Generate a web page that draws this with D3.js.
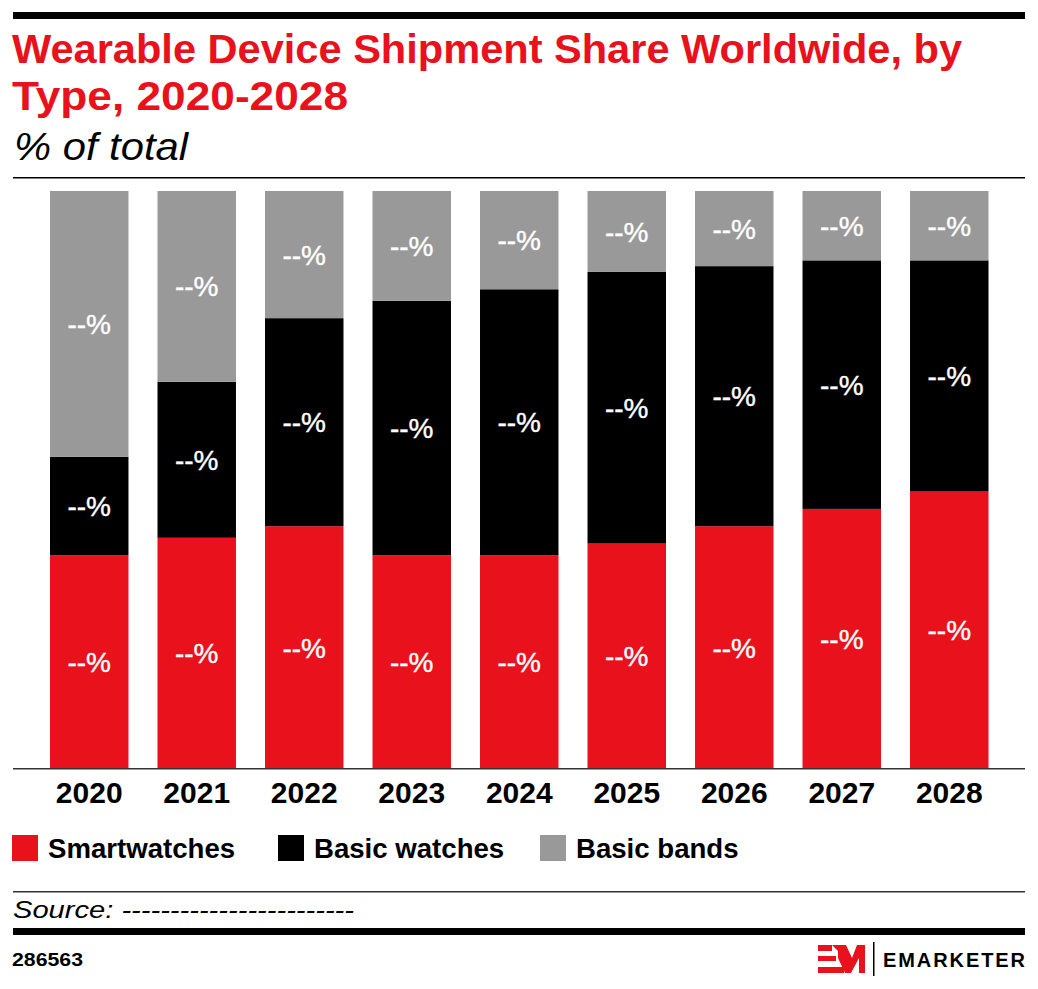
<!DOCTYPE html>
<html lang="en">

<head>
    <meta charset="utf-8">
    <title>Wearable Device Shipment Share</title>
    <style>
        * {
            margin: 0;
            padding: 0;
            box-sizing: border-box;
        }

        body {
            font-family: 'Liberation Sans', Arial, sans-serif;
            background: #fff;
        }
    </style>
</head>

<body>
    <div id="chart"></div>
    <script src="https://d3js.org/d3.v7.min.js"></script>

    <script>
        var years = ["2020", "2021", "2022", "2023", "2024", "2025", "2026", "2027", "2028"];
        var seriesNames = ["Smartwatches", "Basic watches", "Basic bands"];
        var seriesColors = ["#e8111c", "#000000", "#999999"];
        var smartwatches = [37, 40, 42, 37, 37, 39, 42, 45, 48];
        var basicWatches = [17, 27, 36, 44, 46, 47, 45, 43, 40];
        var basicBands = [46, 33, 22, 19, 17, 14, 13, 12, 12];
        var labelText = "--%";

        var width = 1038,
            height = 989;

        var svg = d3.select("#chart")
            .append("svg")
            .attr("width", width)
            .attr("height", height)

        // top rule + title
        svg.append("rect").attr("x", 13).attr("y", 12).attr("width", 1012).attr("height", 7).style("fill", "#000")

        var title = svg.append("text")
            .style("font-size", "40px")
            .style("font-weight", "bold")
            .style("fill", "#e8111c")
        title.append("tspan").attr("x", 12).attr("y", 63)
            .attr("textLength", 950).attr("lengthAdjust", "spacingAndGlyphs")
            .text("Wearable Device Shipment Share Worldwide, by")
        title.append("tspan").attr("x", 12).attr("y", 110)
            .attr("textLength", 336).attr("lengthAdjust", "spacingAndGlyphs")
            .text("Type, 2020-2028")

        svg.append("text")
            .attr("x", 14).attr("y", 160)
            .attr("textLength", 174).attr("lengthAdjust", "spacingAndGlyphs")
            .style("font-size", "38px")
            .style("font-style", "italic")
            .text("% of total")

        svg.append("rect").attr("x", 13).attr("y", 177).attr("width", 1012).attr("height", 1.5).style("fill", "#000")

        // stacked data
        var rows = years.map(function (y, i) {
            return { year: y, s0: smartwatches[i], s1: basicWatches[i], s2: basicBands[i] };
        });
        var stack = d3.stack().keys(["s0", "s1", "s2"]);
        var layers = stack(rows);

        var x = d3.scaleBand()
            .domain(years)
            .range([50, 988.5])
            .paddingInner(0.27)
            .paddingOuter(0);

        var y = d3.scaleLinear()
            .domain([0, 100])
            .range([769, 191]);

        var g = svg.append("g");

        var layer = g.selectAll("g.layer")
            .data(layers)
            .enter()
            .append("g")
            .attr("class", "layer")
            .style("fill", function (d, i) { return seriesColors[i]; })

        layer.selectAll("rect")
            .data(function (d) { return d; })
            .enter()
            .append("rect")
            .attr("x", function (d) { return x(d.data.year); })
            .attr("width", x.bandwidth())
            .attr("y", function (d) { return y(d[1]); })
            .attr("height", function (d) { return y(d[0]) - y(d[1]); })

        layer.selectAll("text")
            .data(function (d) { return d; })
            .enter()
            .append("text")
            .attr("x", function (d) { return x(d.data.year) + x.bandwidth() / 2; })
            .attr("y", function (d) { return (y(d[0]) + y(d[1])) / 2; })
            .attr("text-anchor", "middle")
            .attr("dy", "0.36em")
            .style("fill", "#fff")
            .style("font-size", "28px")
            .style("stroke", "#fff")
            .style("stroke-width", "0.4px")
            .text(labelText)

        // x axis
        var xAxis = d3.axisBottom(x).tickSize(0).tickPadding(13);
        var ax = svg.append("g")
            .attr("transform", "translate(0,769)")
            .call(xAxis)
        ax.select(".domain").remove();
        ax.selectAll("text")
            .style("font-family", "'Liberation Sans', Arial, sans-serif")
            .style("font-size", "30px")
            .style("font-weight", "bold")
            .style("fill", "#000")
        svg.append("rect").attr("x", 13).attr("y", 768).attr("width", 1012).attr("height", 1.5).style("fill", "#333")

        // legend
        var legendX = [12, 278, 540];
        var legend = svg.selectAll("g.legend")
            .data(seriesNames)
            .enter()
            .append("g")
            .attr("class", "legend")
            .attr("transform", function (d, i) { return "translate(" + legendX[i] + ",835)"; })
        legend.append("rect")
            .attr("width", 26).attr("height", 26)
            .style("fill", function (d, i) { return seriesColors[i]; })
        legend.append("text")
            .attr("x", 36).attr("y", 23)
            .style("font-size", "27.6px")
            .style("font-weight", "bold")
            .text(function (d) { return d; })

        // footer
        svg.append("rect").attr("x", 13).attr("y", 891).attr("width", 1012).attr("height", 1.5).style("fill", "#333")
        svg.append("text")
            .attr("x", 13).attr("y", 918)
            .attr("textLength", 341).attr("lengthAdjust", "spacingAndGlyphs")
            .style("font-size", "24px")
            .style("font-style", "italic")
            .text("Source: ------------------------")
        svg.append("rect").attr("x", 13).attr("y", 928).attr("width", 1012).attr("height", 7).style("fill", "#000")
        svg.append("text")
            .attr("x", 12).attr("y", 966)
            .attr("textLength", 71).attr("lengthAdjust", "spacingAndGlyphs")
            .style("font-size", "18px")
            .style("font-weight", "bold")
            .text("286563")

        // logo
        var logo = svg.append("g").style("fill", "#e8111c");
        logo.append("rect").attr("x", 818).attr("y", 945).attr("width", 14).attr("height", 6)
        logo.append("rect").attr("x", 818).attr("y", 956).attr("width", 18).attr("height", 5)
        logo.append("rect").attr("x", 818).attr("y", 967).attr("width", 26).attr("height", 6)
        logo.append("path").attr("d", "M832,945 L846,945 L852,958 L857,945 L865,945 L865,973 L859,973 L859,958 L851,973 L845,973 L838,958 L838,951 Z")
        svg.append("rect").attr("x", 873).attr("y", 942).attr("width", 1.5).attr("height", 34).style("fill", "#000")
        svg.append("text")
            .attr("x", 883).attr("y", 967)
            .attr("textLength", 142)
            .style("font-size", "20px")
            .style("font-weight", "bold")
            .text("EMARKETER")
    </script>
</body>

</html>
